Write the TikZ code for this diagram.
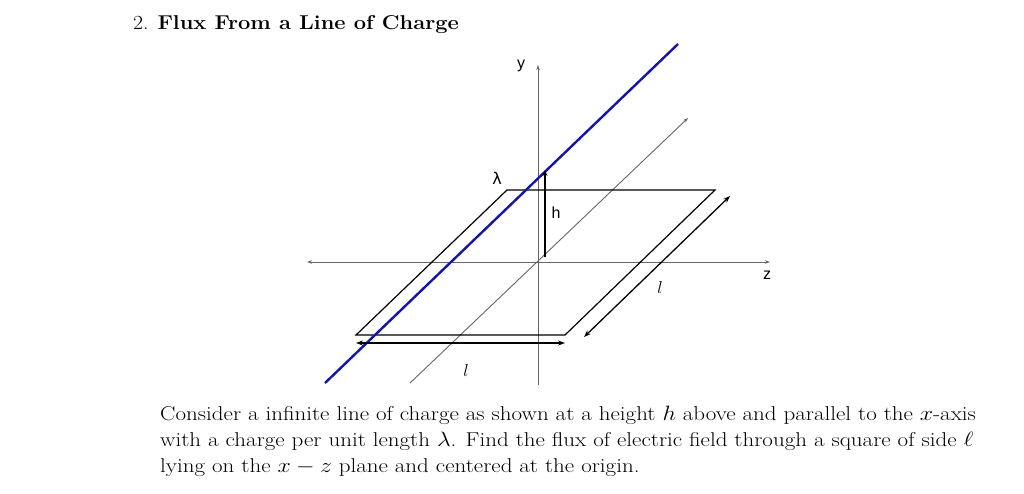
\documentclass[tikz,border=0pt]{standalone}
\usepackage{fontspec}
\newfontfamily\lab{Liberation Sans}
\newfontfamily\djfont{DejaVu Sans}
\usetikzlibrary{arrows.meta}
\begin{document}
\begin{tikzpicture}[x=1pt,y=-1pt,
  axis/.style={draw=gray!80!black,line width=0.9pt,-{Stealth[length=5pt,width=3.5pt]}},
  body/.style={font=\fontsize{20}{26}\selectfont,anchor=base west,inner sep=0pt,xscale=1.15},
  lbl/.style={font=\lab\fontsize{16}{18}\selectfont,inner sep=0pt}]
\useasboundingbox (0,0) rectangle (1024,493);
\node[body,xscale=0.95] (title) at (133,29) {2. \textbf{Flux From a Line of Charge}};
% axes
\coordinate (yb) at (538,385); \coordinate (yt) at (538,65);
\coordinate (zl) at (307,262); \coordinate (zr) at (770,262);
\coordinate (xb) at (410,383); \coordinate (xt) at (688,118);
\draw[axis] (yb) -- (yt);
\draw[axis,{Stealth[length=5pt,width=3.5pt]}-{Stealth[length=5pt,width=3.5pt]}] (zl) -- (zr);
\draw[axis] (xb) -- (xt);
\node[lbl] (ylab) at (521,66) {y};
\node[lbl] (zlab) at (767,275) {z};
% square
\coordinate (s1) at (507,190); \coordinate (s2) at (715,190);
\coordinate (s3) at (565,335); \coordinate (s4) at (356,335);
\draw[line width=1.2pt] (s1) -- (s2) -- (s3) -- (s4) -- cycle;
% line of charge
\coordinate (lb) at (325,383); \coordinate (lt) at (678,44);
\draw[line width=2.4pt,draw={rgb,255:red,20;green,20;blue,170}] (lb) -- (lt);
\node[font=\djfont\fontsize{16}{18}\selectfont,inner sep=0pt] (lam) at (497,178) {λ};
% h
\coordinate (h0) at (545,257); \coordinate (h1) at (545,170);
\draw[line width=1.3pt,-{Stealth[length=6pt,width=5pt]}] (h0) -- (h1);
\node[lbl] (hlab) at (556,213) {h};
% dimensions
\coordinate (d1) at (356,343); \coordinate (d2) at (565,343);
\draw[line width=1.3pt,{Stealth[length=7pt,width=5pt]}-{Stealth[length=7pt,width=5pt]}] (d1) -- (d2);
\node[font=\fontsize{18}{18}\selectfont,inner sep=0pt] (l1) at (466,370) {$l$};
\coordinate (r1) at (584,337); \coordinate (r2) at (730,196);
\draw[line width=1.3pt,{Stealth[length=7pt,width=5pt]}-{Stealth[length=7pt,width=5pt]}] (r1) -- (r2);
\node[font=\fontsize{18}{18}\selectfont,inner sep=0pt] (l2) at (660,287) {$l$};
% text
\node[body] (t1) at (160,420) {Consider a infinite line of charge as shown at a height $h$ above and parallel to the $x$-axis};
\node[body] (t2) at (160,446) {with a charge per unit length $\lambda$. Find the flux of electric field through a square of side $\ell$};
\node[body] (t3) at (160,472) {lying on the $x-z$ plane and centered at the origin.};
\end{tikzpicture}
\end{document}
